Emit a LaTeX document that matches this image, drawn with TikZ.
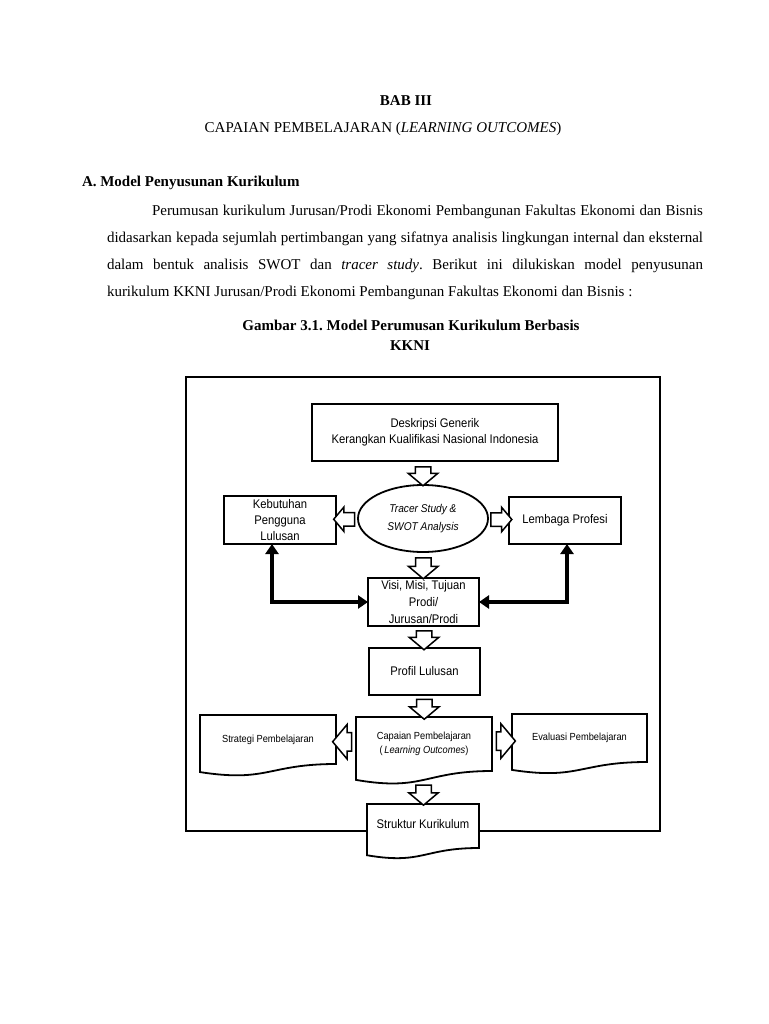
\documentclass[tikz,border=0pt]{standalone}
\usepackage{fontspec}
\setmainfont{Liberation Serif}
\newfontfamily\narrowsans{Liberation Sans}[FakeStretch=0.9]
\usetikzlibrary{shapes.geometric,shapes.arrows,arrows.meta,calc}
\frenchspacing
\begin{document}
\begin{tikzpicture}[x=1pt,y=-1pt,
  every node/.style={inner sep=0pt,outer sep=0pt},
  body/.style={font=\fontsize{15}{18}\selectfont,anchor=base west},
  boxn/.style={draw,line width=1.8pt,fill=white,font=\narrowsans\fontsize{12.5}{16}\selectfont,align=center},
  docn/.style={font=\narrowsans\fontsize{10.3}{14}\selectfont,align=center},
  docline/.style={draw,line width=1.8pt,fill=white},
  barrow/.style={single arrow,draw,line width=1.5pt,fill=white,single arrow head extend=7pt,single arrow head indent=0pt,inner xsep=0pt,inner ysep=7pt,single arrow tip angle=100},
  thickarr/.style={line width=3.5pt,{Triangle[length=10pt,width=13pt]}-{Triangle[length=10pt,width=13pt]}}
]
\useasboundingbox[fill=white] (0,0) rectangle (768,1024);
% heading text
\node[font=\bfseries\fontsize{15}{18}\selectfont,anchor=base] (bab) at (406,106) {BAB III};
\node[font=\fontsize{15}{18}\selectfont,anchor=base] (cap) at (383,133) {CAPAIAN PEMBELAJARAN (\textit{LEARNING OUTCOMES})};
\node[font=\bfseries\fontsize{15}{18}\selectfont,anchor=base west] (secA) at (82,187) {A. Model Penyusunan Kurikulum};
\node[body] (p1) at (152,215) {\makebox[551pt][s]{Perumusan kurikulum Jurusan/Prodi Ekonomi Pembangunan Fakultas Ekonomi dan Bisnis}};
\node[body] (p2) at (107,242) {\makebox[596pt][s]{didasarkan kepada sejumlah pertimbangan yang sifatnya analisis lingkungan internal dan eksternal}};
\node[body] (p3) at (107,269) {\makebox[596pt][s]{dalam bentuk analisis SWOT dan \textit{tracer study}. Berikut ini dilukiskan model penyusunan}};
\node[body] (p4) at (107,296) {kurikulum KKNI Jurusan/Prodi Ekonomi Pembangunan Fakultas Ekonomi dan Bisnis :};
\node[font=\bfseries\fontsize{15}{18}\selectfont,anchor=base] (cap1) at (411,330) {Gambar 3.1. Model Perumusan Kurikulum Berbasis};
\node[font=\bfseries\fontsize{15}{18}\selectfont,anchor=base] (cap2) at (410,350) {KKNI};

% outer frame
\draw[line width=2.3pt] (186,377) rectangle (660,831);

% boxes
\node[boxn,minimum width=246pt,minimum height=57pt] (desk) at (435,432.5) {Deskripsi Generik\\Kerangkan Kualifikasi Nasional Indonesia};
\node[draw,line width=1.8pt,fill=white,ellipse,minimum width=130pt,minimum height=67pt,font=\narrowsans\itshape\fontsize{11.3}{18}\selectfont,align=center] (tr) at (423,518.5) {Tracer Study \&\\SWOT Analysis};
\node[boxn,minimum width=112pt,minimum height=48pt] (keb) at (280,520) {Kebutuhan\\Pengguna\\Lulusan};
\node[boxn,minimum width=112pt,minimum height=47pt] (lem) at (565,520.5) {Lembaga Profesi};
\node[boxn,minimum width=111pt,minimum height=48pt,font=\narrowsans\fontsize{12.5}{17}\selectfont] (visi) at (423.5,602) {Visi, Misi, Tujuan\\Prodi/\\Jurusan/Prodi};
\node[boxn,minimum width=111pt,minimum height=47pt] (prof) at (424.5,671.5) {Profil Lulusan};

% document shapes
\newcommand\docshape[1]{%
  \path[docline] (#1.north west) -- (#1.north east) -- (#1.south east)
    .. controls (#1.south) and ($(#1.north)!1.381!(#1.south)$)
    .. ($(#1.north west)!1.1646!(#1.south west)$) -- cycle;}
\node[docn,minimum width=136pt,minimum height=49pt] (strat) at (268,739.5) {};
\docshape{strat}
\node[docn] (strattxt) at (strat.center) {Strategi Pembelajaran};
\node[docn,minimum width=136pt,minimum height=54pt] (capn) at (424,744) {};
\docshape{capn}
\node[docn] (captxt) at (capn.center) {Capaian Pembelajaran\\(\,\textit{Learning Outcomes})};
\node[docn,minimum width=135pt,minimum height=48pt] (eval) at (579.5,738) {};
\docshape{eval}
\node[docn] (evaltxt) at (eval.center) {Evaluasi Pembelajaran};
\node[docn,minimum width=112pt,minimum height=44pt] (str) at (423,826) {};
\docshape{str}
\node[docn,font=\narrowsans\fontsize{12.5}{16}\selectfont] (strtxt) at ([yshift=2pt]str.center) {Struktur Kurikulum};

% hollow block arrows
\path (desk.south -| tr.north) -- (tr.north) node[midway,barrow,rotate=-90,minimum height=19pt] (a1) {};
\path (tr.west) -- (keb.east) node[midway,barrow,rotate=180,minimum height=21pt,inner ysep=6pt,single arrow head extend=5.5pt] (a2) {};
\path (tr.east) -- (lem.west) node[midway,barrow,minimum height=21pt,inner ysep=6pt,single arrow head extend=5.5pt] (a3) {};
\path (tr.south) -- (visi.north) node[midway,barrow,rotate=-90,minimum height=21pt] (a4) {};
\path (visi.south) -- (prof.north) node[midway,barrow,rotate=-90,minimum height=19pt] (a5) {};
\path (prof.south) -- (capn.north) node[midway,barrow,rotate=-90,minimum height=20pt] (a6) {};
\path (capn.west) -- (strat.east) node[midway,barrow,rotate=180,minimum height=19pt,inner ysep=8.5pt,single arrow head extend=8pt] (a7) {};
\path (capn.east) -- (eval.west) node[midway,barrow,minimum height=19pt,inner ysep=8.5pt,single arrow head extend=8pt] (a8) {};
\coordinate (capbot) at ($(capn.north)!1.163!(capn.south)$);
\path (capbot) -- (str.north) node[midway,barrow,rotate=-90,minimum height=20pt] (a9) {};

% thick double arrows
\draw[thickarr] ([xshift=-8pt]keb.south) |- (visi.west);
\draw[thickarr] ([xshift=2pt]lem.south) |- (visi.east);
\end{tikzpicture}
\end{document}
